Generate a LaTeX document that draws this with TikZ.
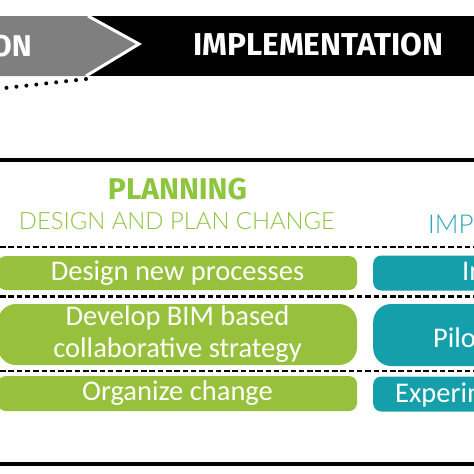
\documentclass[tikz,border=0pt]{standalone}
\usepackage{fontspec}
\setmainfont{Carlito}
\newfontfamily\bannerfont{Fira Sans}
\newfontfamily\lightfont{Lato Light}
\definecolor{chevgray}{HTML}{7F7F7F}
\definecolor{boxgreen}{HTML}{97C13C}
\definecolor{headgreen}{HTML}{8DC53F}
\definecolor{boxteal}{HTML}{149FAA}
\definecolor{headteal}{HTML}{26A9B5}
\begin{document}
\begin{tikzpicture}[x=1pt,y=-1pt,
  bannertext/.style={text=white,inner sep=0pt,font=\bannerfont\bfseries\fontsize{30}{30}\selectfont},
  dotline/.style={line width=4pt,line cap=round,dash pattern=on 0pt off 10pt},
  dashline/.style={line width=2.4pt,dash pattern=on 5.5pt off 2.8pt},
  rule/.style={line width=4.5pt},
  gbox/.style={fill=boxgreen,text=white,inner sep=0pt,align=center,
    minimum width=359pt,font=\fontsize{28.5}{32}\selectfont},
  tbox/.style={fill=boxteal,inner sep=0pt,minimum width=300pt,anchor=west},
  ttext/.style={text=white,inner sep=0pt,anchor=base west,font=\fontsize{28.5}{32}\selectfont}]
\useasboundingbox (0,0) rectangle (474,474);
\fill[white] (0,0) rectangle (474,474);
% banner
\fill[black] (80,16) rectangle (474,76);
\coordinate (ctop) at (88,16);
\coordinate (ctip) at (139,44);
\coordinate (cbot) at (86,76);
\fill[chevgray] (-5,16) -- (ctop) -- (ctip) -- (cbot) -- (-5,76) -- cycle;
\draw[white,line width=3pt] (ctop) -- (ctip) -- (cbot);
\node[bannertext,anchor=base east] (on) at (32,56) {ON};
\node[bannertext,anchor=base west] (impl) at (193,55) {\resizebox{250pt}{!}{IMPLEMENTATION}};
\coordinate (dA) at (86,79);
\coordinate (dB) at (5,88);
\draw[dotline] (dA) -- (dB);
% rules
\draw[rule] (0,160) -- (474,160);
\draw[rule] (0,464) -- (474,464);
% headings
\node[anchor=base,inner sep=0pt,text=headgreen] (plan) at (177.5,199)
  {\resizebox{139pt}{!}{\bannerfont\bfseries PLANNING}};
\node[anchor=base,inner sep=0pt,text=headgreen] (plansub) at (177,229)
  {\resizebox{316pt}{!}{\lightfont DESIGN AND PLAN CHANGE}};
\node[anchor=base west,inner sep=0pt,text=headteal,font=\lightfont\fontsize{26}{26}\selectfont] (imp) at (428,233) {IMP};
% dashed separators
\draw[dashline] (0,247) -- (474,247);
\draw[dashline] (0,296.5) -- (474,296.5);
\draw[dashline] (0,371) -- (474,371);
% green boxes
\node[gbox,rounded corners=8pt,minimum height=34pt] (g1) at (177.5,273) {Design new processes};
\node[gbox,rounded corners=18pt,minimum height=61pt] (g2) at (177.5,334.5) {Develop BIM based\\collaborative strategy};
\node[gbox,rounded corners=8pt,minimum height=35pt] (g3) at (177.5,393.5) {Organize change};
% teal boxes
\node[tbox,rounded corners=8pt,minimum height=35pt] (t1) at (373,273) {};
\node[tbox,rounded corners=18pt,minimum height=62pt] (t2) at (373,335) {};
\node[tbox,rounded corners=8pt,minimum height=35pt] (t3) at (373,394) {};
\node[ttext] (t1txt) at (462,280) {In};
\node[ttext] (t2txt) at (433,347) {Pilo};
\node[ttext] (t3txt) at (395,402) {Experim};
\end{tikzpicture}
\end{document}
